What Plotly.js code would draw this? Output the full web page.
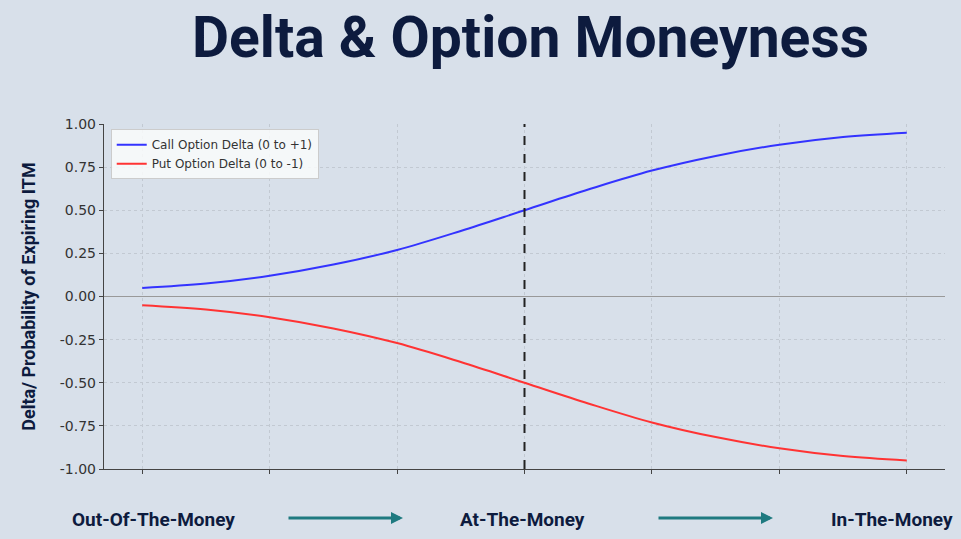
<!DOCTYPE html>
<html><head><meta charset="utf-8">
<script src="https://cdn.plot.ly/plotly-3.0.1.min.js"></script>
<style>html,body{margin:0;padding:0;background:#d8e0ea;}#chart{width:961px;height:539px;}</style>
</head><body><div id="chart"></div>
<script>
const moneyness = [0, 0.5, 1, 1.5, 2, 2.5, 3, 3.5, 4, 4.5, 5, 5.5, 6];
const callDelta = [0.05, 0.075, 0.12, 0.185, 0.27, 0.38, 0.50, 0.62, 0.73, 0.815, 0.88, 0.925, 0.95];
const putDelta = [-0.05, -0.075, -0.12, -0.185, -0.27, -0.38, -0.50, -0.62, -0.73, -0.815, -0.88, -0.925, -0.95];
const xTicks = [0, 1, 2, 3, 4, 5, 6];
const yTicks = [-1, -0.75, -0.5, -0.25, 0, 0.25, 0.5, 0.75, 1];
const yTickLabels = ["-1.00", "-0.75", "-0.50", "-0.25", "0.00", "0.25", "0.50", "0.75", "1.00"];
const atmX = 3;
const moneyLabels = ["Out-Of-The-Money", "At-The-Money", "In-The-Money"];

const traces = [
  {x: moneyness, y: callDelta, type: 'scatter', mode: 'lines', name: 'Call Option Delta (0 to +1)',
   line: {color: '#3333ff', width: 2, shape: 'spline'}},
  {x: moneyness, y: putDelta, type: 'scatter', mode: 'lines', name: 'Put Option Delta (0 to -1)',
   line: {color: '#ff3333', width: 2, shape: 'spline'}}
];

const navy = '#0d1b3e';
const teal = '#1f7a80';
const layout = {
  width: 961, height: 539,
  paper_bgcolor: '#d8e0ea', plot_bgcolor: '#d8e0ea',
  margin: {l: 104, r: 16, t: 124, b: 70},
  showlegend: true,
  legend: {x: 0.008, y: 0.985, xanchor: 'left', yanchor: 'top', bgcolor: 'rgba(250,251,252,0.85)',
           bordercolor: '#cccccc', borderwidth: 1, font: {family: 'DejaVu Sans', size: 12, color: '#333'},
           tracegroupgap: 0, itemwidth: 30},
  title: {text: '<b>Delta & Option Moneyness</b>', x: 0.552, xanchor: 'center', y: 0.968, yanchor: 'top',
          font: {family: 'Roboto', size: 57, color: navy}},
  xaxis: {range: [-0.3, 6.3], tickvals: xTicks, ticktext: xTicks.map(() => ''), ticks: 'outside',
          ticklen: 4, tickcolor: '#444', showline: true, linecolor: '#444', linewidth: 1.2,
          showgrid: true, gridcolor: '#c2c9d2', griddash: 'dot', gridwidth: 1, zeroline: false, fixedrange: true},
  yaxis: {range: [-1, 1], tickvals: yTicks, ticktext: yTickLabels, ticks: 'outside', ticklen: 4,
          tickcolor: '#444', showline: true, linecolor: '#444', linewidth: 1.2,
          showgrid: true, gridcolor: '#c2c9d2', griddash: 'dot', gridwidth: 1, zeroline: false,
          tickfont: {family: 'DejaVu Sans', size: 14, color: '#333'},
          title: {text: '<b>Delta/ Probability of Expiring ITM</b>', standoff: 19,
                  font: {family: 'Roboto', size: 18, color: navy}}},
  shapes: [
    {type: 'line', xref: 'paper', x0: 0, x1: 1, yref: 'y', y0: 0, y1: 0, line: {color: '#999', width: 1}},
    {type: 'line', xref: 'x', x0: atmX, x1: atmX, yref: 'paper', y0: 0, y1: 1, line: {color: '#222', width: 2, dash: 'dash'}}
  ],
  annotations: [
    {text: '<b>' + moneyLabels[0] + '</b>', xref: 'paper', yref: 'paper', x: (153 - 104) / 841, y: -0.147,
     xanchor: 'center', yanchor: 'middle', showarrow: false, font: {family: 'Roboto', size: 19, color: navy}},
    {text: '<b>' + moneyLabels[1] + '</b>', xref: 'paper', yref: 'paper', x: (522 - 104) / 841, y: -0.147,
     xanchor: 'center', yanchor: 'middle', showarrow: false, font: {family: 'Roboto', size: 19, color: navy}},
    {text: '<b>' + moneyLabels[2] + '</b>', xref: 'paper', yref: 'paper', x: (892 - 104) / 841, y: -0.147,
     xanchor: 'center', yanchor: 'middle', showarrow: false, font: {family: 'Roboto', size: 19, color: navy}},
    {text: '', xref: 'paper', yref: 'paper', axref: 'paper', ayref: 'paper',
     x: (403 - 104) / 841, y: -0.142, ax: (287 - 104) / 841, ay: -0.142,
     showarrow: true, arrowhead: 2, arrowsize: 0.8, arrowwidth: 3, arrowcolor: teal},
    {text: '', xref: 'paper', yref: 'paper', axref: 'paper', ayref: 'paper',
     x: (773 - 104) / 841, y: -0.142, ax: (657 - 104) / 841, ay: -0.142,
     showarrow: true, arrowhead: 2, arrowsize: 0.8, arrowwidth: 3, arrowcolor: teal}
  ]
};
Plotly.newPlot('chart', traces, layout, {displayModeBar: false, staticPlot: true});
</script></body></html>
